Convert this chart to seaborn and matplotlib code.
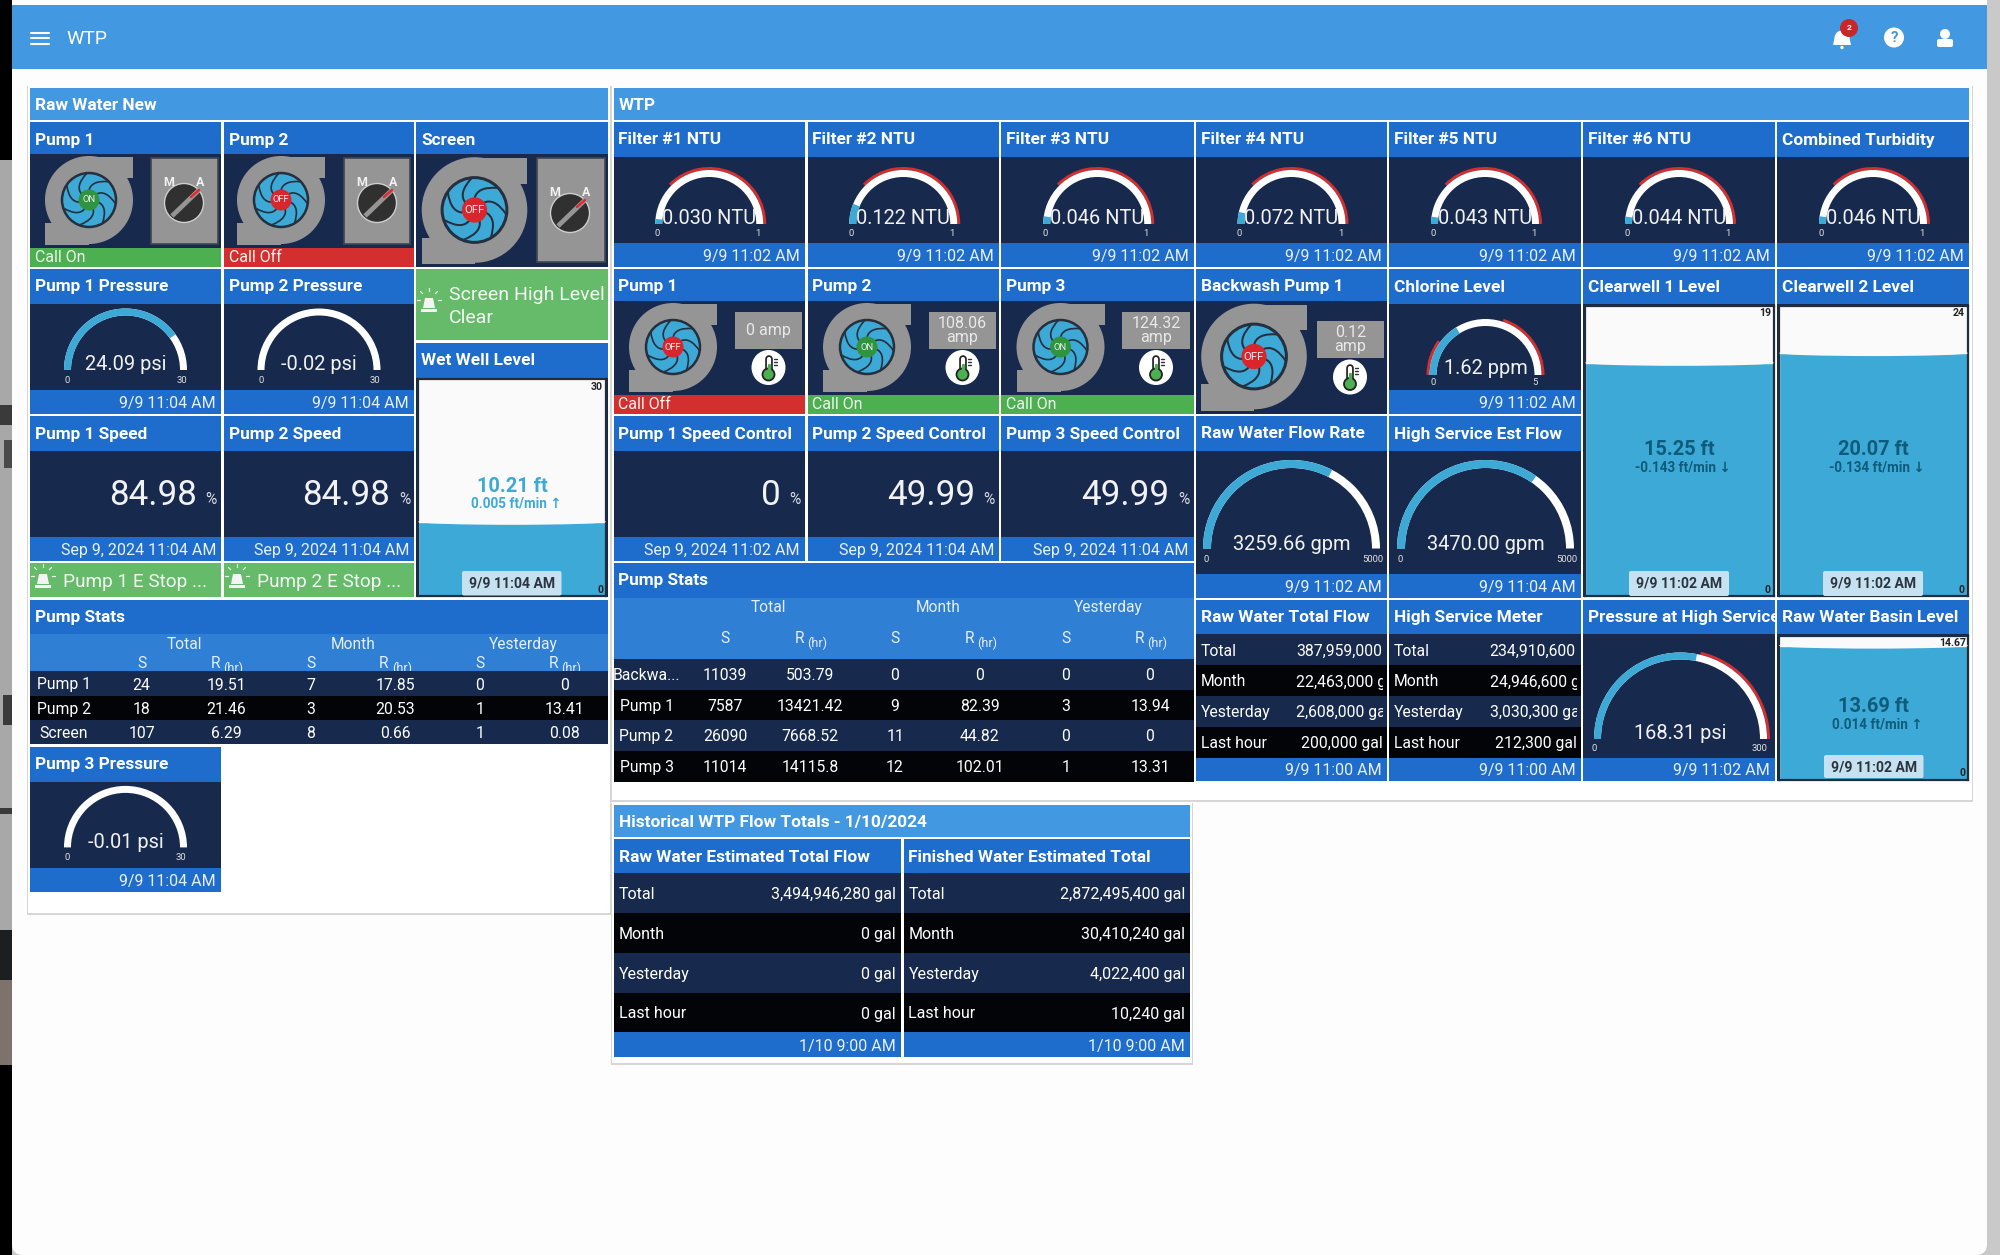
import numpy as np
import pandas as pd
import matplotlib
matplotlib.use("Agg")
import matplotlib.pyplot as plt
import seaborn as sns
from matplotlib.patches import Rectangle, Circle, Wedge, Ellipse, FancyBboxPatch, PathPatch, Polygon
from matplotlib.path import Path
from matplotlib.transforms import Bbox, TransformedBbox

# ---------- data ----------
FILTER_NAMES = ["Filter #1 NTU", "Filter #2 NTU", "Filter #3 NTU", "Filter #4 NTU", "Filter #5 NTU", "Filter #6 NTU", "Combined Turbidity"]
FILTER_VALUES = [0.030, 0.122, 0.046, 0.072, 0.043, 0.044, 0.046]
FILTER_MAX = 1
FILTER_RED_FROM = 0.25
PRESSURE_VALUES = [24.09, -0.02, -0.01]
PRESSURE_NAMES = ["Pump 1 Pressure", "Pump 2 Pressure", "Pump 3 Pressure"]
PRESSURE_MAX = 30
RAW_SPEED = [84.98, 84.98]
WTP_SPEED = ["0", "49.99", "49.99"]
WTP_SPEED_TIME = ["Sep 9, 2024 11:02 AM", "Sep 9, 2024 11:04 AM", "Sep 9, 2024 11:04 AM"]
WTP_AMPS = ["0 amp", "108.06\namp", "124.32\namp", "0.12\namp"]
WTP_PUMP_STATE = [False, True, True, False]
FLOW_NAMES = ["Raw Water Flow Rate", "High Service Est Flow"]
FLOW_VALUES = [3259.66, 3470.00]
FLOW_MAX = 5000
FLOW_TIME = ["9/9 11:02 AM", "9/9 11:04 AM"]
CHLORINE = 1.62
CHLORINE_MAX = 5
CHLORINE_LOW_HIGH = [1, 3]
HS_PRESSURE = 168.31
HS_PRESSURE_MAX = 300
HS_PRESSURE_RED = 172
TANK_NAMES = ["Wet Well Level", "Clearwell 1 Level", "Clearwell 2 Level", "Raw Water Basin Level"]
TANK_VALUES = [10.21, 15.25, 20.07, 13.69]
TANK_MAX = [30, 19, 24, 14.67]
TANK_RATE = ["0.005 ft/min ↑", "-0.143 ft/min ↓", "-0.134 ft/min ↓", "0.014 ft/min ↑"]
TANK_TIME = ["9/9 11:04 AM", "9/9 11:02 AM", "9/9 11:02 AM", "9/9 11:02 AM"]
PERIODS = ["Total", "Month", "Yesterday"]
RAW_STATS_NAMES = ["Pump 1", "Pump 2", "Screen"]
RAW_STATS = [["24", "19.51", "7", "17.85", "0", "0"],
             ["18", "21.46", "3", "20.53", "1", "13.41"],
             ["107", "6.29", "8", "0.66", "1", "0.08"]]
WTP_STATS_NAMES = ["Backwa...", "Pump 1", "Pump 2", "Pump 3"]
WTP_STATS = [["11039", "503.79", "0", "0", "0", "0"],
             ["7587", "13421.42", "9", "82.39", "3", "13.94"],
             ["26090", "7668.52", "11", "44.82", "0", "0"],
             ["11014", "14115.8", "12", "102.01", "1", "13.31"]]
METER_LABELS = ["Total", "Month", "Yesterday", "Last hour"]
RAW_TOTAL_FLOW = ["387,959,000", "22,463,000 gal", "2,608,000 gal", "200,000 gal"]
HS_METER = ["234,910,600", "24,946,600 gal", "3,030,300 gal", "212,300 gal"]
HIST_RAW = ["3,494,946,280 gal", "0 gal", "0 gal", "0 gal"]
HIST_FIN = ["2,872,495,400 gal", "30,410,240 gal", "4,022,400 gal", "10,240 gal"]

# ---------- palette ----------
HEAD = "#1e6ccb"
CARD = "#4299e1"
NAVY = "#172a4e"
BLACK = "#030408"
SUB = "#2f7fd4"
GREEN = "#4caf50"
ALARM = "#66bb6a"
RED = "#d32f2f"
CYAN = "#3da9d6"
GRAY = "#959595"
WHITE = "#ffffff"

sns.set_theme(style="white")
plt.rcParams["font.family"] = ["Roboto", "DejaVu Sans"]

W, H = 2000, 1255
fig = plt.figure(figsize=(W / 100, H / 100), dpi=100)
fig.patch.set_facecolor("#c9c9c9")


def full_axes(z):
    a = fig.add_axes([0, 0, 1, 1], zorder=z)
    a.set_xlim(0, W)
    a.set_ylim(H, 0)
    a.axis("off")
    a.patch.set_alpha(0)
    return a


ax = full_axes(1)
ov = full_axes(5)


def rect(x0, y0, x1, y1, color, a=ax, z=2, **kw):
    a.add_patch(Rectangle((x0, y0), x1 - x0, y1 - y0, facecolor=color, edgecolor="none", zorder=z, **kw))


def txt(x, y, s, px=16, color=WHITE, ha="center", va="center", weight="normal", clip=None, a=ov, **kw):
    t = a.text(x, y + 1.5, s, fontsize=px * 0.72, color=color, ha=ha, va=va, fontweight=weight, zorder=10, **kw)
    if clip is not None:
        t.set_clip_box(TransformedBbox(Bbox([[clip[0], clip[1]], [clip[2], clip[3]]]), a.transData))
        t.set_clip_on(True)
    return t


def head(x0, y0, x1, y1, title, color=HEAD, dy=0):
    rect(x0, y0, x1, y1, color)
    txt(x0 + 5, (y0 + y1) / 2 + dy, title, px=17.3, ha="left", weight="bold", clip=(x0, y0, x1, y1))


def foot(x0, y0, x1, y1, s):
    rect(x0, y0, x1, y1, HEAD)
    txt(x1 - 5, (y0 + y1) / 2, s, px=16, ha="right", color="#e8f0fa")


def band(cx, cy, r0, r1, f0, f1, color):
    ax.add_patch(Wedge((cx, cy), r1, 180 + 180 * f0, 180 + 180 * f1, width=r1 - r0, facecolor=color, edgecolor="none", zorder=4))


def gauge(cx, cy, R, value, vmax, text, ty, ly, lx0, lx1, lmax, reds=None, px=20, w=7):
    f = min(max(value / vmax, 0), 1)
    if reds:
        band(cx, cy, R - 3, R, reds[0], reds[1], RED)
        if len(reds) == 4:
            band(cx, cy, R - 3, R, reds[2], reds[3], RED)
        Rb = R - 3
    else:
        Rb = R
    band(cx, cy, Rb - w, Rb, 0, 1, WHITE)
    band(cx, cy, Rb - w, Rb, 0, f, CYAN)
    txt(cx, ty + 1, text, px=px, color="#f2f2f2")
    txt(lx0, ly, "0", px=9.5, color="#e0e0e0")
    txt(lx1, ly, lmax, px=9.5, color="#e0e0e0")


def pump(cx, cy, s, on):
    ax.add_patch(Circle((cx, cy), 44 * s, facecolor=GRAY, edgecolor="none", zorder=4))
    rect(cx, cy - 43 * s, cx + 44 * s, cy - 22 * s, GRAY, z=4)
    rect(cx - 44 * s, cy + 23 * s, cx, cy + 45 * s, GRAY, z=4)
    ax.add_patch(Circle((cx, cy), 27 * s, facecolor=CYAN, edgecolor="#252f3d", lw=1.8 * s, zorder=5))
    for a0 in np.arange(0, 360, 360 / 7) + 12:
        p0 = np.deg2rad(a0)
        p1 = np.deg2rad(a0 + 48)
        pm = np.deg2rad(a0 + 6)
        verts = [(cx + 9 * s * np.cos(p0), cy + 9 * s * np.sin(p0)),
                 (cx + 20 * s * np.cos(pm), cy + 20 * s * np.sin(pm)),
                 (cx + 27 * s * np.cos(p1), cy + 27 * s * np.sin(p1))]
        ax.add_patch(PathPatch(Path(verts, [Path.MOVETO, Path.CURVE3, Path.CURVE3]), facecolor="none", edgecolor="#252f3d", lw=1.2 * s, zorder=6))
    ax.add_patch(Circle((cx, cy), 10.5 * s, facecolor="#2e9440" if on else "#d9252b", edgecolor="none", zorder=7))
    txt(cx, cy - 1.5, "ON" if on else "OFF", px=9.5 * s, color="#eeeeee")


def switch(x0, y0, x1, y1, cx, cy, r=19.5):
    ax.add_patch(Rectangle((x0, y0), x1 - x0, y1 - y0, facecolor=GRAY, edgecolor="#3f4650", lw=1.2, zorder=4))
    ax.add_patch(Circle((cx, cy), r, facecolor="#303030", edgecolor="#cfcfcf", lw=1, zorder=5))
    ax.plot([cx - 12, cx + 15], [cy + 13, cy - 13], color=GRAY, lw=3.4, zorder=6, solid_capstyle="butt")
    ax.plot([cx + 7, cx + 15], [cy - 6, cy - 13], color="#e8262b", lw=1.7, zorder=7)
    txt(cx - 15.5, cy - 21.5, "M", px=12.5, weight="bold", color="#f2f2f2")
    txt(cx + 16, cy - 21.5, "A", px=12.5, weight="bold", color="#f2f2f2")


def thermo(cx, cy):
    ax.add_patch(Ellipse((cx, cy), 34, 35, facecolor=WHITE, edgecolor="none", zorder=4))
    ax.plot([cx, cx], [cy - 9, cy + 4], color="#222222", lw=5.5, solid_capstyle="round", zorder=5)
    ax.plot([cx, cx], [cy - 9, cy + 4], color=WHITE, lw=3, solid_capstyle="round", zorder=6)
    ax.add_patch(Circle((cx, cy + 7), 6, facecolor=GREEN, edgecolor="#222222", lw=1.3, zorder=7))
    ax.plot([cx, cx], [cy - 3, cy + 5], color=GREEN, lw=2.4, zorder=8)
    for dy in (-9, -6, -3):
        ax.plot([cx + 5, cx + 8], [cy + dy, cy + dy], color="#333333", lw=1, zorder=6)


def beacon(cx, cy):
    ax.add_patch(Polygon([(cx - 4, cy - 5), (cx + 4, cy - 5), (cx + 6, cy + 5), (cx - 6, cy + 5)], facecolor="#f4f4f4", edgecolor="none", zorder=6))
    rect(cx - 8, cy + 6, cx + 8, cy + 9, "#f4f4f4", z=6)
    for a0 in (-90, -135, -45, 180, 0):
        p = np.deg2rad(a0)
        ax.plot([cx + 9 * np.cos(p), cx + 12 * np.cos(p)], [cy - 3 + 9 * np.sin(p), cy - 3 + 12 * np.sin(p)], color="#f4f4f4", lw=0.9, zorder=6)


def tank(x0, y0, x1, y1, value, vmax, name, rate, when, tx, ty, sy, chip, maxpos, zeropos, textcolor, maxlabel):
    a = fig.add_axes([x0 / W, 1 - y1 / H, (x1 - x0) / W, (y1 - y0) / H], zorder=3)
    df = pd.DataFrame({"tank": [name], "level": [value]})
    sns.barplot(data=df, x="tank", y="level", color=CYAN, width=1, saturation=1, ax=a)
    a.set_xlim(-0.5, 0.5)
    a.set_ylim(0, vmax)
    a.set_xticks([])
    a.set_yticks([])
    a.set_xlabel("")
    a.set_ylabel("")
    a.set_facecolor("#fafafa")
    for sp in a.spines.values():
        sp.set_visible(True)
        sp.set_edgecolor("#222d3c")
        sp.set_linewidth(1.6)
    a.add_patch(Ellipse((0, value), 1, 6 * vmax / (y1 - y0), facecolor="#fafafa", edgecolor="none", zorder=5))
    txt(tx, ty, f"{value:.2f} ft", px=20, color=textcolor, weight="bold")
    txt(tx + 4, sy, rate, px=13.5, color=textcolor, weight="bold")
    ov.add_patch(FancyBboxPatch((chip[0] + 2, chip[1] + 2), chip[2] - chip[0] - 4, chip[3] - chip[1] - 4,
                                boxstyle="round,pad=2", facecolor="#c6e2f1", edgecolor="none", zorder=8))
    txt((chip[0] + chip[2]) / 2, (chip[1] + chip[3]) / 2 - 1, when, px=14, color="#2b3440", weight="bold")
    txt(maxpos[0], maxpos[1], maxlabel, px=10.5, color="#222222", weight="bold")
    txt(zeropos[0], zeropos[1], "0", px=10.5, color="#222222", weight="bold")


def speed(x0, y0, x1, y1, value, when):
    rect(x0, y0, x1, y1 - 24, NAVY)
    foot(x0, y1 - 24, x1, y1, when)
    txt(x1 - 24, y0 + 43, value, px=35, ha="right", color="#f2f2f2")
    txt(x1 - 4, y0 + 47, "%", px=15.5, ha="right", color="#dddddd")


def stats(x0, x1, y_head, y_sub0, y_sub1, rows_y, names, data, name_x, col_x, per_x, per_y, sy, ry):
    head(x0, y_head, x1, y_sub0, "Pump Stats", dy=-1)
    rect(x0, y_sub0, x1, y_sub1, SUB)
    for xx, p in zip(per_x, PERIODS):
        txt(xx, per_y, p, px=15.5, color="#e6eef8")
    clip = (x0, y_sub0, x1, y_sub1)
    for i, xx in enumerate(col_x):
        if i % 2 == 0:
            txt(xx, sy, "S", px=15.5, color="#e6eef8", clip=clip)
        else:
            txt(xx - 11, sy, "R", px=15.5, color="#e6eef8", clip=clip)
            txt(xx + 7, ry, "(hr)", px=12.5, color="#e6eef8", clip=clip)
    for j, n in enumerate(names):
        r0, r1 = rows_y[j], rows_y[j + 1]
        rect(x0, r0, x1, r1, NAVY if j % 2 == 0 else BLACK)
        c = (r0 + r1) / 2
        txt(name_x, c, n, px=15.8)
        for xx, v in zip(col_x, data[j]):
            txt(xx, c, v, px=15.8)


# ---------- page frame ----------
rect(0, 0, 12, 160, "#000000", z=0)
rect(0, 160, 12, 930, "#a8a8a8", z=0)
rect(0, 930, 12, 980, "#1c1f22", z=0)
rect(0, 980, 12, 1065, "#7d736c", z=0)
rect(0, 1065, 12, 1255, "#000000", z=0)
rect(0, 405, 12, 425, "#3a3a3a", z=0.5)
rect(4, 440, 12, 468, "#4a4a4a", z=0.5)
rect(3, 695, 12, 725, "#3a3a3a", z=0.5)
rect(0, 808, 12, 814, "#3a3a3a", z=0.5)
ax.add_patch(FancyBboxPatch((12, -20), 1975, 1275, boxstyle="round,pad=0,rounding_size=11", facecolor="#fdfdfd", edgecolor="none", zorder=1))
rect(12, 0, 1987, 5, "#ffffff", z=1)
rect(12, 5, 1987, 69, CARD, z=2)
for yy in (32.5, 38, 43.5):
    ax.plot([31, 49], [yy, yy], color=WHITE, lw=1.5, zorder=3)
txt(66, 37, "WTP", px=19.5, ha="left")
# bell
ax.add_patch(Wedge((1842, 38), 7.5, 180, 360, facecolor=WHITE, edgecolor="none", zorder=3))
ax.add_patch(Polygon([(1834.5, 38), (1849.5, 38), (1851, 45), (1833, 45)], facecolor=WHITE, edgecolor="none", zorder=3))
ax.add_patch(Circle((1842, 47.5), 1.7, facecolor=WHITE, edgecolor="none", zorder=3))
ax.add_patch(Circle((1849, 28), 9, facecolor="#c62828", edgecolor="none", zorder=4))
txt(1849, 26.5, "2", px=8.5, weight="bold")
ax.add_patch(Circle((1894, 37.5), 10, facecolor=WHITE, edgecolor="none", zorder=3))
txt(1894, 36, "?", px=15, color=CARD, weight="bold")
ax.add_patch(Circle((1945, 34), 5, facecolor=WHITE, edgecolor="none", zorder=3))
ax.add_patch(FancyBboxPatch((1939, 41), 12, 4, boxstyle="round,pad=2", facecolor=WHITE, edgecolor="none", zorder=3))

# cards
for (x0, y0, x1, y1) in [(28, 86, 610, 913), (612, 86, 1972, 800), (612, 803, 1192, 1063)]:
    rect(x0 - 1, y0, x1 + 1, y1 + 2, "#d6d6d6", z=1.5)
    rect(x0, y0, x1, y1, WHITE, z=1.6)

# ---------- Raw Water New ----------
LX = [(30, 221), (224, 414), (416, 608)]
head(30, 88, 608, 120, "Raw Water New", CARD)
for i, (nm, st, stc) in enumerate([("Pump 1", "Call On", GREEN), ("Pump 2", "Call Off", RED)]):
    x0, x1 = LX[i]
    head(x0, 122, x1, 154, nm, dy=1)
    rect(x0, 154, x1, 248, NAVY)
    rect(x0, 248, x1, 267, stc)
    txt(x0 + 5, 256, st, px=16, ha="left", color="#eef5ee")
    pump(89 + 192 * i, 200, 1.0, i == 0)
    switch(151 + 193 * i, 158, 218 + 192 * i, 244, 184 + 193 * i, 203)
head(416, 122, 608, 154, "Screen", dy=1)
rect(416, 154, 608, 267, NAVY)
pump(474.5, 210, 1.2, False)
switch(536.5, 158, 605, 262, 570, 213)

for i in range(2):
    x0, x1 = LX[i]
    cx = (x0 + x1) / 2
    head(x0, 269, x1, 304, PRESSURE_NAMES[i], dy=-1)
    rect(x0, 304, x1, 390, NAVY)
    foot(x0, 390, x1, 414, "9/9 11:04 AM")
    gauge(cx, 370, 61.5, PRESSURE_VALUES[i], PRESSURE_MAX, f"{PRESSURE_VALUES[i]:.2f} psi", 362, 379, cx - 58, cx + 56, "30")
    head(x0, 416, x1, 451, f"Pump {i + 1} Speed")
    speed(x0, 451, x1, 561, f"{RAW_SPEED[i]:.2f}", "Sep 9, 2024 11:04 AM")
    rect(x0, 563, x1, 597, ALARM)
    beacon(x0 + 13, 579)
    txt(x0 + 33, 580.5, f"Pump {i + 1} E Stop ...", px=19, ha="left", color="#f4f8f4")

rect(416, 269, 608, 340, ALARM)
beacon(429, 303)
txt(449, 293, "Screen High Level", px=19.5, ha="left", color="#f4f8f4", clip=(416, 269, 608, 340))
txt(449, 316.5, "Clear", px=19.5, ha="left", color="#f4f8f4")
head(416, 343, 608, 377.5, TANK_NAMES[0], dy=-1)
rect(416, 377.5, 608, 597, NAVY)
tank(418, 379, 606, 595.5, TANK_VALUES[0], TANK_MAX[0], TANK_NAMES[0], TANK_RATE[0], TANK_TIME[0],
     512, 484.5, 502, (462, 571, 561.5, 595.5), (597, 385), (600, 588.5), CYAN, "30")

stats(30, 608, 600, 634, 671, [671, 696, 720, 744], RAW_STATS_NAMES, RAW_STATS, 64,
      [141.5, 226, 311, 395, 480, 564.5], [184, 353, 523], 643, 661.5, 667)

head(30, 747, 221, 782, PRESSURE_NAMES[2], dy=-2)
rect(30, 782, 221, 868, NAVY)
foot(30, 868, 221, 892, "9/9 11:04 AM")
gauge(125.5, 847.4, 61.5, PRESSURE_VALUES[2], PRESSURE_MAX, f"{PRESSURE_VALUES[2]:.2f} psi", 840, 856, 67.5, 181, "30")

# ---------- WTP ----------
WX = [(613.5, 805), (807.5, 999), (1001, 1193.5), (1196, 1387), (1389, 1581), (1583, 1775), (1777, 1969)]
head(613.5, 88, 1969, 120, "WTP", CARD)
for i, (x0, x1) in enumerate(WX):
    cx = (x0 + x1) / 2
    head(x0, 122, x1, 157, FILTER_NAMES[i], dy=-1)
    rect(x0, 157, x1, 243, NAVY)
    foot(x0, 243, x1, 267, "9/9 11:02 AM")
    gauge(cx, 224, 57, FILTER_VALUES[i], FILTER_MAX, f"{FILTER_VALUES[i]:.3f} NTU", 216, 232.5, cx - 52, cx + 49, "1",
          reds=(FILTER_RED_FROM, 1))

PUMP_NAMES = ["Pump 1", "Pump 2", "Pump 3"]
for i in range(3):
    x0, x1 = WX[i]
    head(x0, 269, x1, 301, PUMP_NAMES[i])
    rect(x0, 301, x1, 395, NAVY)
    on = WTP_PUMP_STATE[i]
    rect(x0, 395, x1, 414, GREEN if on else RED)
    txt(x0 + 5, 403, "Call On" if on else "Call Off", px=16, ha="left", color="#eef5ee")
    pump(x0 + 59.5, 347, 1.0, on)
    rect(x0 + 121, 312, x0 + 188.5, 349, GRAY)
    txt(x0 + 155, 329, WTP_AMPS[i], px=16, color="#e8e8e8", linespacing=0.95)
    thermo(x0 + 155, 367.5)
    head(x0, 416, x1, 451, f"Pump {i + 1} Speed Control")
    speed(x0, 451, x1, 561, WTP_SPEED[i], WTP_SPEED_TIME[i])

stats(613.5, 1193.5, 563, 598, 659, [659, 690, 720, 750.5, 781.5], WTP_STATS_NAMES, WTP_STATS, 646.5,
      [725, 810, 895, 980, 1066, 1150], [768, 938, 1108], 606, 637, 642)

x0, x1 = WX[3]
head(x0, 269, x1, 301, "Backwash Pump 1")
rect(x0, 301, x1, 414, NAVY)
pump(1254, 356.5, 1.2, WTP_PUMP_STATE[3])
rect(1317, 321, 1384, 358, GRAY)
txt(1350.5, 338, WTP_AMPS[3], px=16, color="#e8e8e8", linespacing=0.95)
thermo(1350, 377)

x0, x1 = WX[4]
head(x0, 269, x1, 304, "Chlorine Level", dy=-1)
rect(x0, 304, x1, 390, NAVY)
foot(x0, 390, x1, 414, "9/9 11:02 AM")
gauge(1485.5, 375, 59, CHLORINE, CHLORINE_MAX, f"{CHLORINE:.2f} ppm", 365.5, 381, 1433, 1534.5, "5",
      reds=(0, CHLORINE_LOW_HIGH[0] / CHLORINE_MAX, CHLORINE_LOW_HIGH[1] / CHLORINE_MAX, 1))

for i in (5, 6):
    x0, x1 = WX[i]
    k = i - 4
    head(x0, 269, x1, 304, TANK_NAMES[k], dy=-1)
    rect(x0, 304, x1, 597, NAVY)
    dx = 194 * (i - 5)
    tank(x0 + 2, 305.5, x1 - 1, 596, TANK_VALUES[k], TANK_MAX[k], TANK_NAMES[k], TANK_RATE[k], TANK_TIME[k],
         1679 + dx, 448, 465.5, (1629 + dx, 571, 1729 + dx, 596), (1765 + dx, 311), (1767.5 + dx, 588.5), "#0f5b79", str(TANK_MAX[k]))

for i in range(2):
    x0, x1 = WX[3 + i]
    cx = 1291.5 + 194 * i
    head(x0, 416, x1, 451, FLOW_NAMES[i], dy=-1)
    rect(x0, 451, x1, 574, NAVY)
    foot(x0, 574, x1, 597.5, FLOW_TIME[i])
    gauge(cx, 548.5, 88.5, FLOW_VALUES[i], FLOW_MAX, f"{FLOW_VALUES[i]:.2f} gpm", 541.5, 557.5, cx - 85, cx + 81.5, "5000", w=8)

for i, (nm, vals) in enumerate([("Raw Water Total Flow", RAW_TOTAL_FLOW), ("High Service Meter", HS_METER)]):
    x0, x1 = WX[3 + i]
    head(x0, 600, x1, 634, nm, dy=-1)
    ys = [634, 665, 696, 727, 757.7]
    for j, lab in enumerate(METER_LABELS):
        rect(x0, ys[j], x1, ys[j + 1], NAVY if j % 2 == 0 else BLACK)
        c = (ys[j] + ys[j + 1]) / 2
        txt(x0 + 5, c, lab, px=15.8, ha="left")
        if j < 3:
            txt(x0 + 100.5, c, vals[j], px=15.8, ha="left", clip=(x0, ys[j], x1 - 4, ys[j + 1]))
        else:
            txt(x1 - 4, c, vals[j], px=15.8, ha="right")
    foot(x0, 757.7, x1, 781, "9/9 11:00 AM")

x0, x1 = WX[5]
head(x0, 600, x1, 634, "Pressure at High Service", dy=-1)
rect(x0, 634, x1, 757.7, NAVY)
foot(x0, 757.7, x1, 781, "9/9 11:02 AM")
gauge(1680.5, 739, 89.5, HS_PRESSURE, HS_PRESSURE_MAX, f"{HS_PRESSURE:.2f} psi", 731, 747, 1594, 1760, "300",
      reds=(HS_PRESSURE_RED / HS_PRESSURE_MAX, 1), w=7)

x0, x1 = WX[6]
head(x0, 600, x1, 634, TANK_NAMES[3], dy=-1)
rect(x0, 634, x1, 781, NAVY)
tank(x0 + 2, 636, x1 - 1, 780, TANK_VALUES[3], TANK_MAX[3], TANK_NAMES[3], TANK_RATE[3], TANK_TIME[3],
     1873.5, 705, 723, (1824, 755, 1923.5, 778), (1953, 642), (1962, 772), "#0f5b79", "14.67")

# ---------- Historical ----------
head(614, 805, 1190, 837, "Historical WTP Flow Totals - 1/10/2024", CARD)
for (x0, x1, nm, vals) in [(614, 901, "Raw Water Estimated Total Flow", HIST_RAW), (903.5, 1190, "Finished Water Estimated Total", HIST_FIN)]:
    head(x0, 838.5, x1, 873, nm)
    ys = [873, 913, 953, 993, 1032]
    for j, lab in enumerate(METER_LABELS):
        rect(x0, ys[j], x1, ys[j + 1], NAVY if j % 2 == 0 else BLACK)
        c = (ys[j] + ys[j + 1]) / 2
        txt(x0 + 5, c, lab, px=16, ha="left")
        txt(x1 - 5, c, vals[j], px=16, ha="right")
    foot(x0, 1032, x1, 1057, "1/10 9:00 AM")

fig.savefig("out.png", dpi=100)
